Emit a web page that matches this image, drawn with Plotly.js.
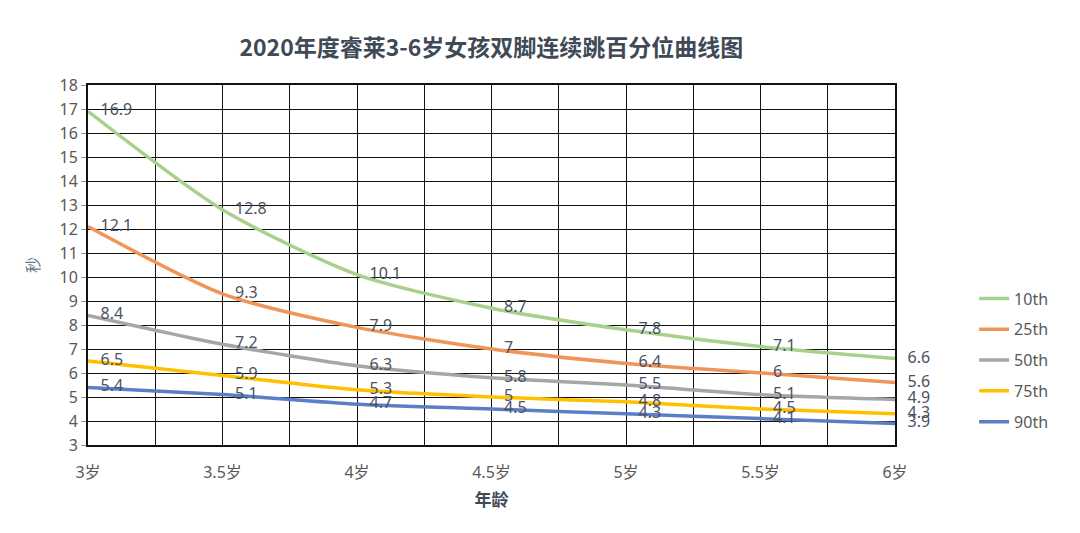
<!DOCTYPE html>
<html>
<head>
<meta charset="utf-8">
<script src="https://cdn.plot.ly/plotly-3.0.1.min.js"></script>
<style>html,body{margin:0;padding:0;background:#fff;}#chart{width:1080px;height:533px;}</style>
</head>
<body>
<div id="chart"></div>
<script>
const ages = [3, 3.5, 4, 4.5, 5, 5.5, 6];
const ageLabels = ['3岁', '3.5岁', '4岁', '4.5岁', '5岁', '5.5岁', '6岁'];
const seriesNames = ['10th', '25th', '50th', '75th', '90th'];
const p10 = [16.9, 12.8, 10.1, 8.7, 7.8, 7.1, 6.6];
const p25 = [12.1, 9.3, 7.9, 7, 6.4, 6, 5.6];
const p50 = [8.4, 7.2, 6.3, 5.8, 5.5, 5.1, 4.9];
const p75 = [6.5, 5.9, 5.3, 5, 4.8, 4.5, 4.3];
const p90 = [5.4, 5.1, 4.7, 4.5, 4.3, 4.1, 3.9];
const colors = ['#A9D18E', '#F0955A', '#A6A6A6', '#FFC000', '#5B7FC6'];

const allSeries = [p10, p25, p50, p75, p90];
const FONT = '"Noto Sans", "Noto Sans CJK SC", sans-serif';
const PAD = '\u00a0\u00a0\u00a0';

const traces = allSeries.map((vals, i) => ({
  x: ages,
  y: vals,
  name: seriesNames[i],
  legendgroup: 'g' + i,
  type: 'scatter',
  mode: 'lines+text',
  text: vals.map(v => PAD + String(v)),
  textposition: 'middle right',
  textfont: {family: FONT, size: 16, color: '#4a5262'},
  cliponaxis: false,
  line: {color: colors[i], width: 3.5, shape: 'spline', smoothing: 0.7},
  hoverinfo: 'x+y+name'
}));

// half-step gridlines, labels only on category points
const tickVals = [];
const tickText = [];
for (let i = 0; i < ages.length; i++) {
  tickVals.push(ages[i]);
  tickText.push(ageLabels[i]);
  if (i < ages.length - 1) {
    tickVals.push((ages[i] + ages[i + 1]) / 2);
    tickText.push('');
  }
}

const layout = {
  width: 1080,
  height: 533,
  paper_bgcolor: '#ffffff',
  plot_bgcolor: '#ffffff',
  margin: {l: 88, r: 185, t: 85, b: 88},
  font: {family: FONT, color: '#595959'},
  title: {
    text: '<b>2020年度睿莱3-6岁女孩双脚连续跳百分位曲线图</b>',
    font: {family: '"Noto Sans CJK SC", sans-serif', size: 23, color: '#404a56'},
    x: 0.455, xanchor: 'center', y: 0.91, yanchor: 'middle'
  },
  xaxis: {
    range: [3, 6],
    tickmode: 'array',
    tickvals: tickVals,
    ticktext: tickText,
    showgrid: true,
    gridcolor: '#111111',
    gridwidth: 1,
    zeroline: false,
    showline: true,
    linecolor: '#111111',
    linewidth: 2,
    mirror: true,
    ticks: '',
    ticklabelstandoff: 12,
    tickfont: {family: FONT, size: 16, color: '#595959'},
    title: {text: '<b>年龄</b>', font: {family: '"Noto Sans CJK SC", sans-serif', size: 17, color: '#404a56'}, standoff: 12}
  },
  yaxis: {
    range: [3, 18],
    dtick: 1,
    showgrid: true,
    gridcolor: '#111111',
    gridwidth: 1,
    zeroline: false,
    showline: true,
    linecolor: '#111111',
    linewidth: 2,
    mirror: true,
    ticks: 'outside',
    ticklen: 5,
    tickcolor: '#8a9aaa',
    tickfont: {family: FONT, size: 16, color: '#595959'},
    title: {text: '秒', font: {family: '"Noto Sans CJK SC", sans-serif', size: 16, color: '#6a7a8a'}, standoff: 16}
  },
  legend: {
    x: 1.098, xanchor: 'left',
    y: 0.236, yanchor: 'middle',
    font: {family: FONT, size: 16, color: '#595959'},
    tracegroupgap: 7,
    itemwidth: 30,
    bgcolor: 'rgba(0,0,0,0)'
  },
  showlegend: true
};

Plotly.newPlot('chart', traces, layout, {displayModeBar: false, staticPlot: true});
</script>
</body>
</html>
